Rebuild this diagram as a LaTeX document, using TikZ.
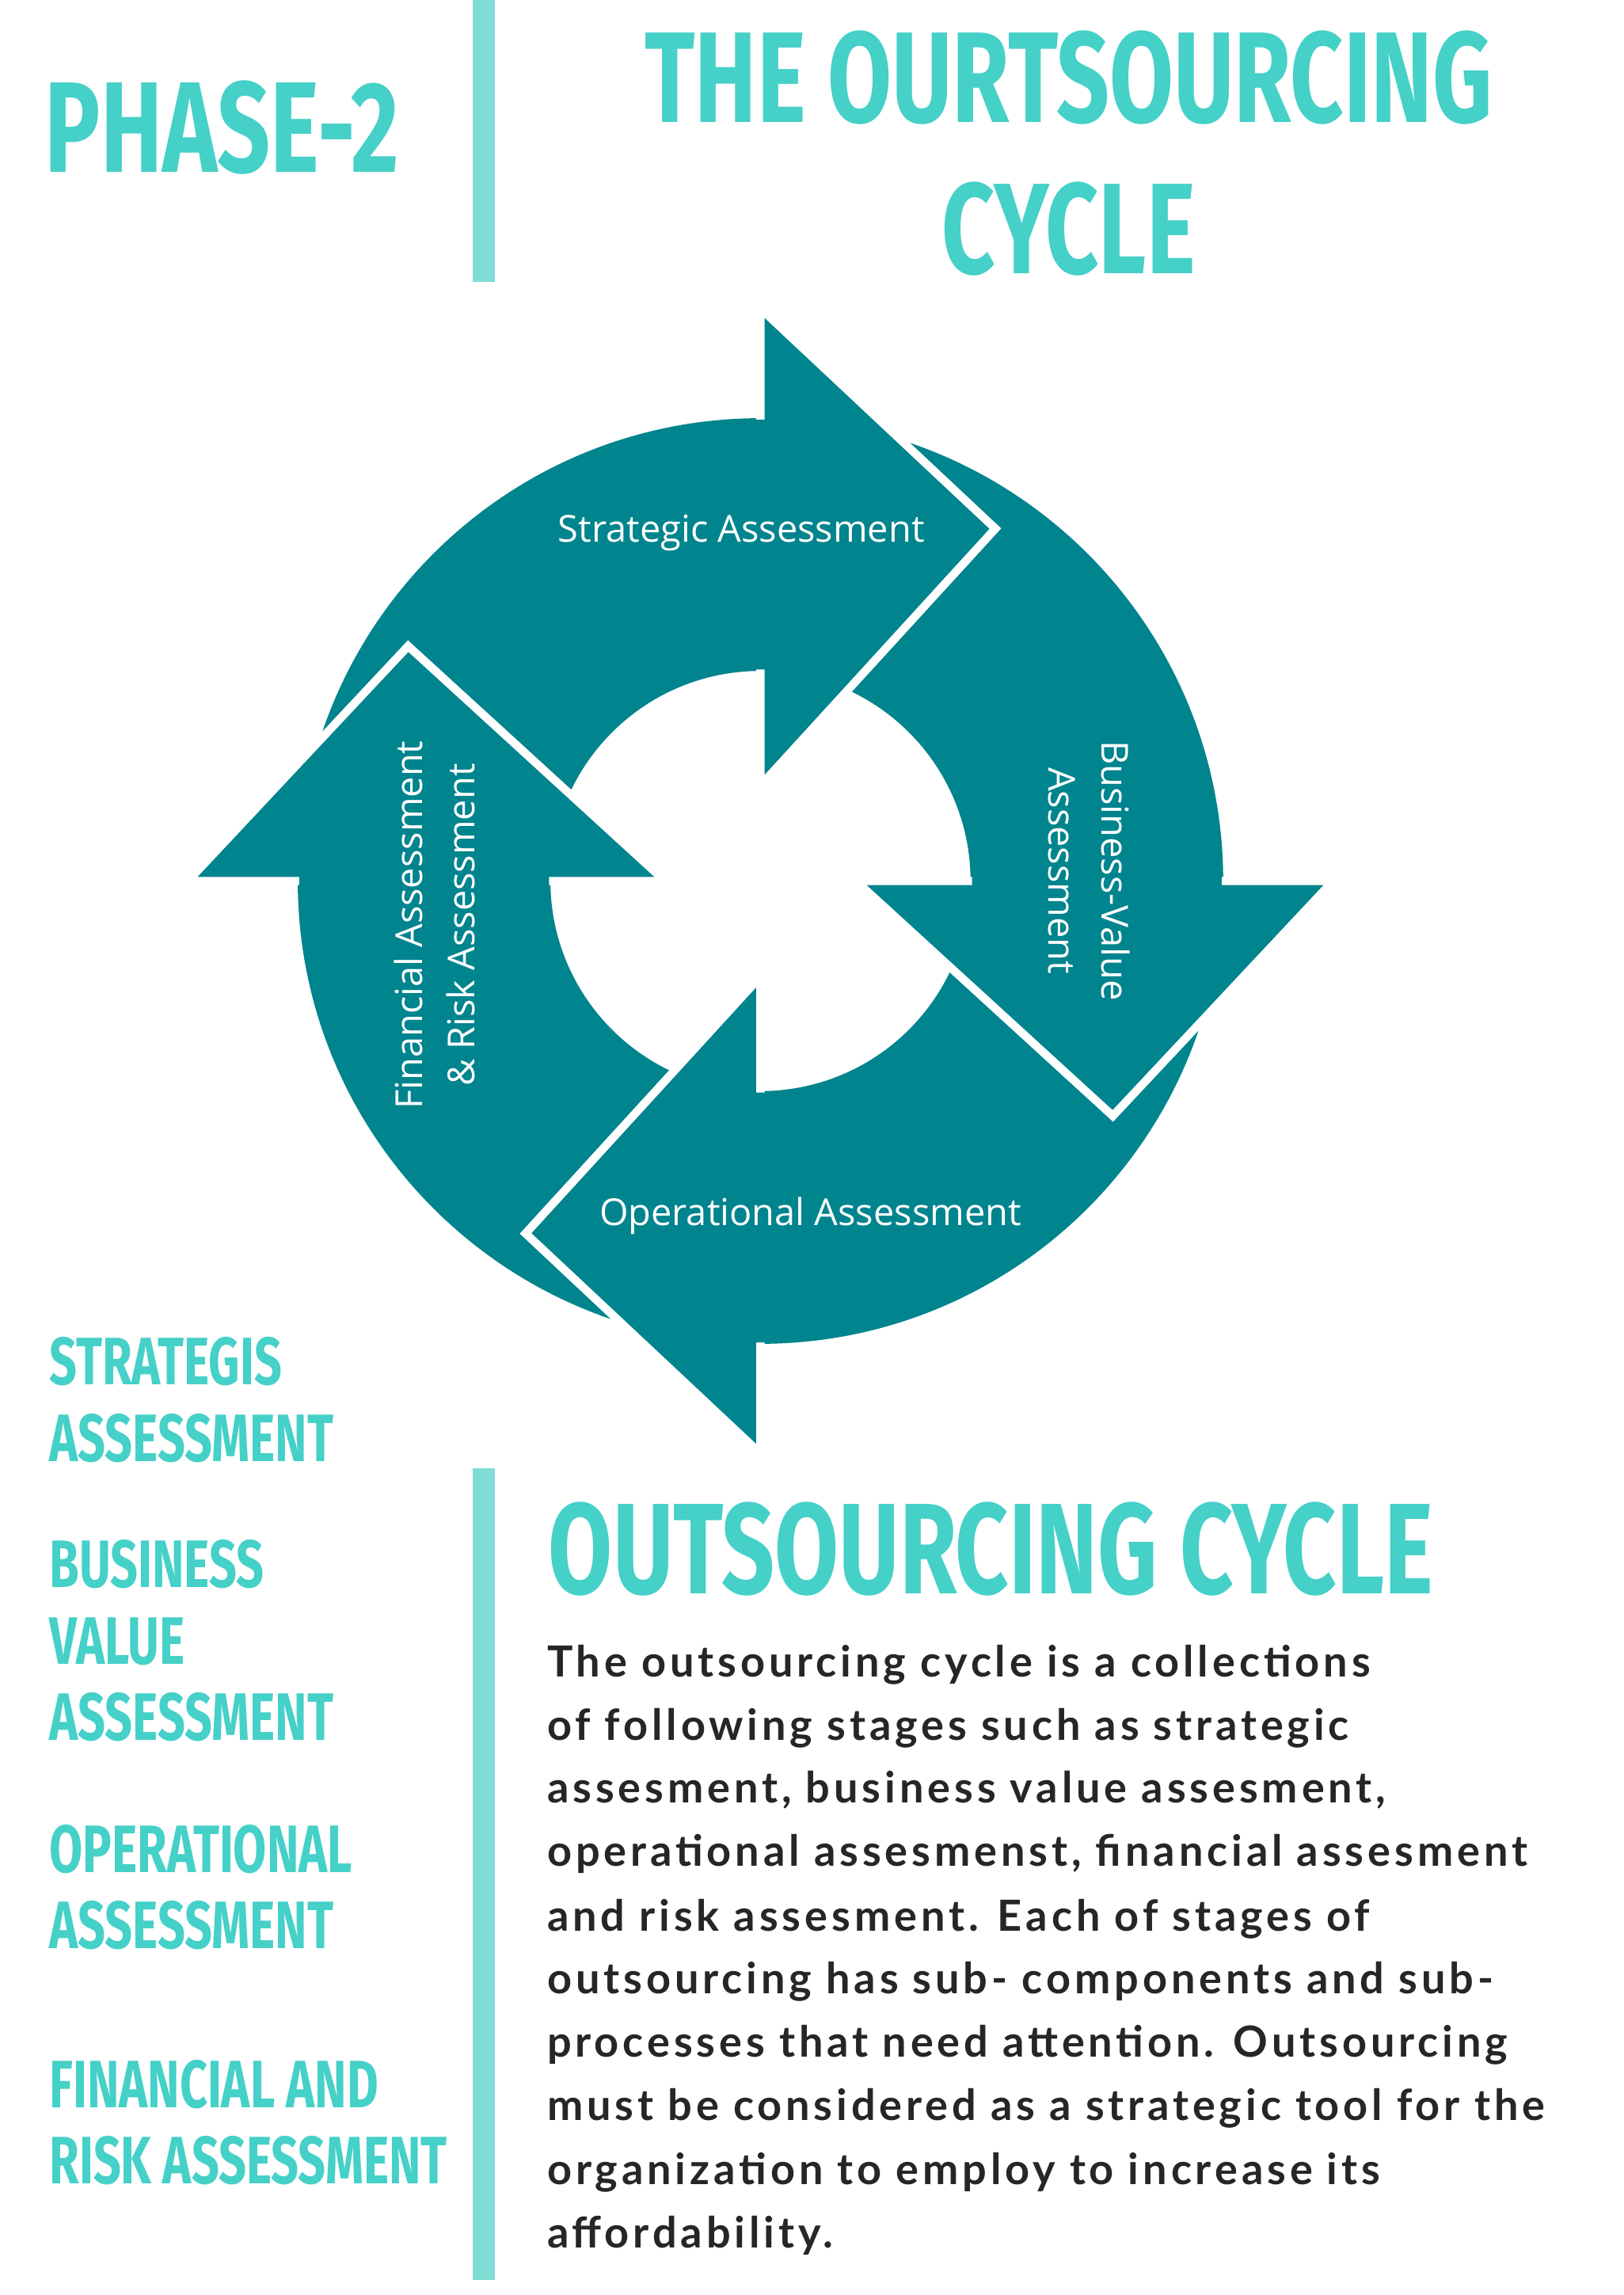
\documentclass[tikz,border=0pt]{standalone}
\usepackage{fontspec}
\setmainfont{Lato}
\newfontfamily\disp[FakeStretch=0.72]{Fira Sans Bold}
\newfontfamily\body[LetterSpace=9]{Lato Bold}
\newfontfamily\lab{Open Sans}
\definecolor{tealA}{HTML}{00848E}
\definecolor{turq}{HTML}{45D0C8}
\definecolor{barc}{HTML}{7FDDD5}
\begin{document}
\begin{tikzpicture}[x=0.01cm,y=-0.01cm,
  head/.style={fill=tealA,draw=white,line width=1.6pt,line join=miter},
  ttl/.style={text=turq,font=\disp\fontsize{25}{30}\selectfont,inner sep=0},
  side/.style={text=turq,font=\disp\fontsize{13}{14.8}\selectfont,align=left,inner sep=0,anchor=north west},
  bl/.style={font=\body\fontsize{8.3}{10}\selectfont,text=black!85,anchor=base west,inner sep=0},
  cl/.style={text=white,font=\lab\fontsize{7.2}{10.2}\selectfont,align=center,inner sep=0}]
\useasboundingbox[fill=white] (0,0) rectangle (1106,1563);
% bars
\fill[barc] (322,0) rectangle (337,192);
\fill[barc] (322,1000) rectangle (337,1553);
% titles
\node[ttl,anchor=west] (ph) at (30,87) {PHASE-2};
\node[ttl] (t1) at (728,53) {THE OURTSOURCING};
\node[ttl] (t2) at (728,156) {CYCLE};
\node[ttl,anchor=west] (oc) at (373,1055) {OUTSOURCING CYCLE};
% side labels
\node[side] (s1) at (33,910) {STRATEGIS\\ASSESSMENT};
\node[side] (s2) at (33,1048) {BUSINESS\\VALUE\\ASSESSMENT};
\node[side] (s3) at (33,1242) {OPERATIONAL\\ASSESSMENT};
\node[side] (s4) at (33,1402) {FINANCIAL AND\\RISK ASSESSMENT};
% body
\node[bl] (b1) at (372,1142) {The outsourcing cycle is a collections};
\node[bl] (b2) at (372,1185) {of following stages such as strategic};
\node[bl] (b3) at (372,1228) {assesment, business value assesment,};
\node[bl] (b4) at (372,1271) {operational assesmenst, financial assesment};
\node[bl] (b5) at (372,1315) {and risk assesment. Each of stages of};
\node[bl] (b6) at (372,1358) {outsourcing has sub- components and sub-};
\node[bl] (b7) at (372,1401) {processes that need attention. Outsourcing};
\node[bl] (b8) at (372,1444) {must be considered as a strategic tool for the};
\node[bl] (b9) at (372,1488) {organization to employ to increase its};
\node[bl] (b10) at (372,1531) {affordability.};
% cycle
\coordinate (c) at (518,600);
\fill[tealA,even odd rule] (c) circle[radius=3.15cm] (c) circle[radius=1.43cm];
\draw[head] (518,210) -- (518,535) -- (678,360) -- cycle;
\draw[head] (583,600) -- (908,600) -- (758,760) -- cycle;
\draw[head] (518,665) -- (518,990) -- (358,840) -- cycle;
\draw[head] (453,600) -- (128,600) -- (278,440) -- cycle;
\begin{scope}[even odd rule]
\clip (c) circle[radius=3.14cm] (c) circle[radius=1.44cm];
\fill[tealA] (514,200) rectangle (522,540);
\fill[tealA] (578,596) rectangle (915,604);
\fill[tealA] (514,660) rectangle (522,1000);
\fill[tealA] (120,596) rectangle (458,604);
\end{scope}
\node[cl] (l1) at (505,363) {Strategic Assessment};
\node[cl,rotate=-90] (l2) at (742,593) {Business-Value\\Assessment};
\node[cl,rotate=90] (l3) at (296,630) {Financial Assessment\\\& Risk Assessment};
\node[cl] (l4) at (552,828) {Operational Assessment};
\end{tikzpicture}
\end{document}
